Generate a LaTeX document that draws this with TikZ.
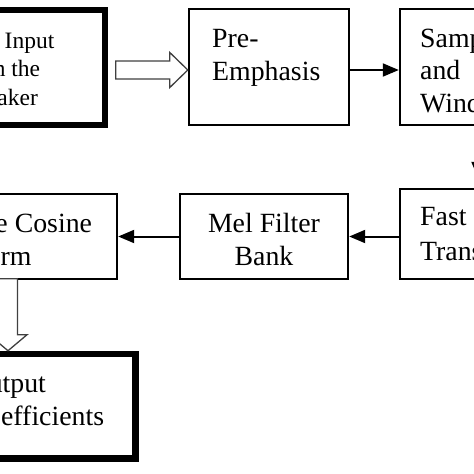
\documentclass[tikz,border=0pt]{standalone}
\usepackage{fontspec}
\setmainfont{Liberation Serif}
\usetikzlibrary{arrows.meta,positioning,calc}
\newcommand{\stack}[2]{\begin{tabular}[t]{@{}#1@{}}#2\end{tabular}}

\begin{document}
\begin{tikzpicture}[
  x=1pt, y=-1pt,
  >={Triangle[length=16pt,width=13pt]},
  block/.style={draw, line width=2.4pt, inner sep=0pt},
  endblock/.style={draw, line width=6.5pt, inner sep=0pt},
  big/.style={font=\fontsize{27.8}{33.5}\selectfont, inner sep=0pt},
  small/.style={font=\fontsize{23.5}{28.5}\selectfont, inner sep=0pt},
  hollow/.style={draw=black!75, line width=1.3pt, fill=white, line join=miter},
  flow/.style={->, line width=2pt},
]
\path[use as bounding box, clip] (0,0) rectangle (474,474);

% Row 1: speaker, pre-emphasis, sampling
\node[endblock, minimum width=210pt, minimum height=115pt] (speaker) at (0,67.5) {};
\node[small, anchor=base] (speakertxt) at (0,48) {\stack{c}{Voice Input\\from the\\Speaker}};

\node[block, minimum width=160pt, minimum height=116pt] (preemph) at (269,67) {};
\node[big, anchor=base west] (preemphtxt) at (212,47) {\stack{l}{Pre-\\Emphasis}};

\node[block, minimum width=156pt, minimum height=116pt] (sampling) at (478,67) {};
\node[big, font=\fontsize{27.8}{32.5}\selectfont, anchor=base west] (samplingtxt) at (420,47)
  {\stack{l}{Sampling\\and\\Windowing}};

% Row 2: FFT, mel filter bank, DCT
\node[block, minimum width=156pt, minimum height=90pt] (fft) at (478,234) {};
\node[big, font=\fontsize{27.8}{35}\selectfont, anchor=base west] (ffttxt) at (420,225)
  {\stack{l}{Fast Fourier\\Transform}};

\node[block, minimum width=168pt, minimum height=85pt] (mel) at (264,236.5) {};
\node[big, anchor=base] (meltxt) at (264,232) {\stack{c}{Mel Filter\\Bank}};

\node[block, minimum width=225pt, minimum height=85pt] (dct) at (4.5,236.5) {};
\node[big, anchor=base west] (dcttxt) at (-85,232) {\stack{l}{Discrete Cosine\\Transform}};

% Row 3: output
\node[endblock, minimum width=255pt, minimum height=104.5pt] (output) at (8,406.25) {};
\node[big, anchor=base west] (outputtxt) at (-31.5,392) {\stack{l}{Output\\Coefficients}};

% Arrows
\draw[hollow] ($(preemph.west)+(0,3)$) -- ++(-18,-17.5) -- ++(0,8.5) -- ++(-54,0)
  -- ++(0,18) -- ++(54,0) -- ++(0,8.5) -- cycle;
\draw[flow] ([yshift=-3pt]preemph.east) -- ([yshift=-3pt]sampling.west);
\draw[flow, shorten >=10pt] (sampling) -- (fft);
\draw[flow] (fft.west |- mel.east) -- (mel.east);
\draw[flow] (mel.west) -- (dct.east);
\draw[hollow] (output.north) -- ++(-19,-16) -- ++(9.5,0) -- ++(0,-56)
  -- ++(19,0) -- ++(0,56) -- ++(9.5,0) -- cycle;
\end{tikzpicture}
\end{document}
